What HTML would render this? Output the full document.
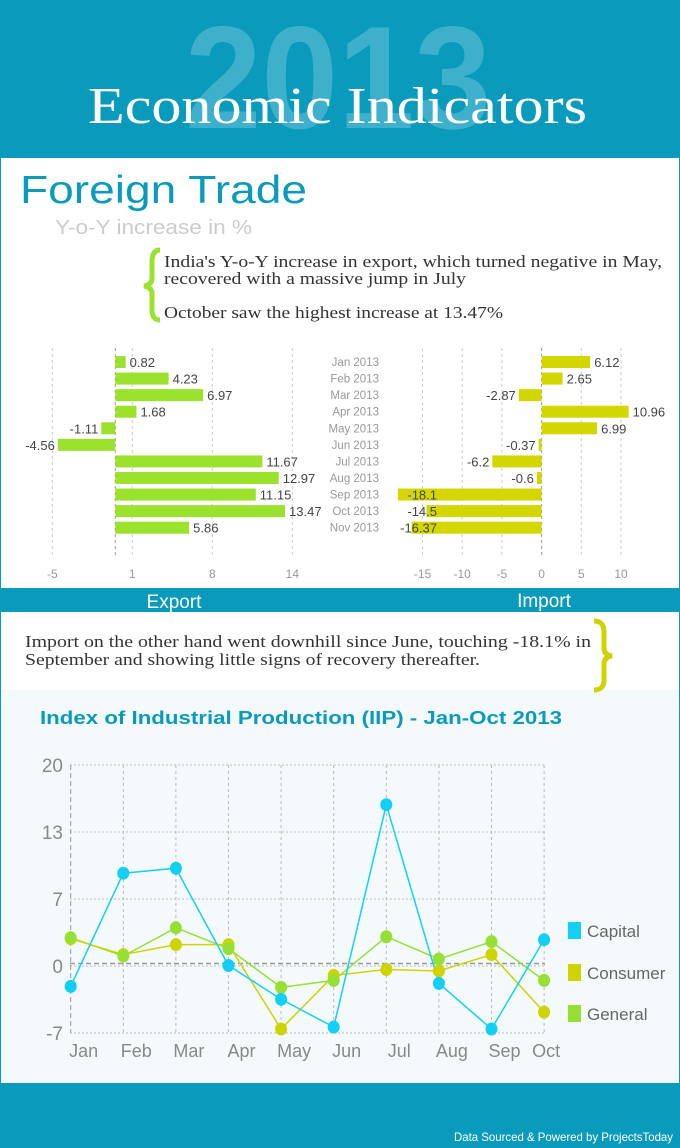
<!DOCTYPE html>
<html><head><meta charset="utf-8"><style>
html,body{margin:0;padding:0;background:#fff}
svg{display:block}
text{font-family:"Liberation Sans",sans-serif}
.serif{font-family:"Liberation Serif",serif}
</style></head><body>
<svg id="root" width="680" height="1148" viewBox="0 0 680 1148" xmlns="http://www.w3.org/2000/svg">
<rect x="0" y="0" width="680" height="1148" fill="#0a9bbc"/>
<rect x="1" y="158" width="678" height="430" fill="#ffffff"/>
<rect x="1" y="612" width="678" height="78" fill="#ffffff"/>
<rect x="1" y="690" width="678" height="393" fill="#f4fafc"/>
<text x="338" y="128" text-anchor="middle" font-size="146" font-weight="bold" fill="#3fb0cb" textLength="306" lengthAdjust="spacingAndGlyphs">2013</text>
<text class="serif" x="88" y="123" font-size="52" fill="#ffffff" textLength="499" lengthAdjust="spacingAndGlyphs">Economic Indicators</text>
<text x="20" y="203" font-size="39" fill="#0a9bbc" textLength="287" lengthAdjust="spacingAndGlyphs">Foreign Trade</text>
<text x="55" y="234" font-size="20" fill="#cccccc" textLength="197" lengthAdjust="spacingAndGlyphs">Y-o-Y increase in %</text>
<path d="M160,250 Q152,250 152,262 L152,278 Q152,285 144,286 Q152,287 152,294 L152,310 Q152,320 160,320" fill="none" stroke="#9be22d" stroke-width="5"/>
<text class="serif" x="164" y="267" font-size="17" fill="#333" textLength="498" lengthAdjust="spacingAndGlyphs">India's Y-o-Y increase in export, which turned negative in May,</text>
<text class="serif" x="164" y="284" font-size="17" fill="#333" textLength="302" lengthAdjust="spacingAndGlyphs">recovered with a massive jump in July</text>
<text class="serif" x="164" y="318" font-size="17" fill="#333" textLength="339" lengthAdjust="spacingAndGlyphs">October saw the highest increase at 13.47%</text>
<g id="trade"></g>
<text x="174" y="608" text-anchor="middle" font-size="19" fill="#fff">Export</text>
<text x="544" y="607" text-anchor="middle" font-size="19" fill="#fff">Import</text>
<text class="serif" x="25" y="647" font-size="17" fill="#333" textLength="566" lengthAdjust="spacingAndGlyphs">Import on the other hand went downhill since June, touching -18.1% in</text>
<text class="serif" x="25" y="665" font-size="17" fill="#333" textLength="455" lengthAdjust="spacingAndGlyphs">September and showing little signs of recovery thereafter.</text>
<path d="M594,621 Q604,621 604,632 L604,648 Q604,655 612,656 Q604,657 604,664 L604,680 Q604,690 594,690" fill="none" stroke="#cfd400" stroke-width="5"/>
<text x="40" y="724" font-size="18" font-weight="bold" fill="#0a9bbc" textLength="522" lengthAdjust="spacingAndGlyphs">Index of Industrial Production (IIP) - Jan-Oct 2013</text>
<g id="iip"></g>
<text x="673" y="1141" text-anchor="end" font-size="12" fill="#ffffff" textLength="219" lengthAdjust="spacingAndGlyphs">Data Sourced &amp; Powered by ProjectsToday</text>
</svg>
<script>
const tradeMonths = ["Jan 2013","Feb 2013","Mar 2013","Apr 2013","May 2013","Jun 2013","Jul 2013","Aug 2013","Sep 2013","Oct 2013","Nov 2013"];
const exportValues = [0.82,4.23,6.97,1.68,-1.11,-4.56,11.67,12.97,11.15,13.47,5.86];
const importValues = [6.12,2.65,-2.87,10.96,6.99,-0.37,-6.2,-0.6,-18.1,-14.5,-16.37];
const exportTicks = [-5,1.35,7.7,14.05];
const exportTickLabels = ["-5","1","8","14"];
const importTicks = [-15,-10,-5,0,5,10];
const importTickLabels = ["-15","-10","-5","0","5","10"];
const iipMonths = ["Jan","Feb","Mar","Apr","May","Jun","Jul","Aug","Sep","Oct"];
const capitalValues = [-2.3,9.1,9.6,-0.2,-3.6,-6.4,16,-2,-6.6,2.4];
const consumerValues = [2.5,0.9,1.9,1.9,-6.6,-1.2,-0.6,-0.75,0.9,-4.9];
const generalValues = [2.6,0.75,3.6,1.5,-2.4,-1.7,2.7,0.45,2.2,-1.7];
const iipTicks = [-7,-0.25,6.5,13.25,20];
const iipTickLabels = ["-7","0","7","13","20"];

const NS="http://www.w3.org/2000/svg";
function mk(parent,tag,attrs,txt){const e=document.createElementNS(NS,tag);for(const k in attrs)e.setAttribute(k,attrs[k]);if(txt!==undefined)e.textContent=txt;parent.appendChild(e);return e;}

const trade=document.getElementById('trade');
const rowY=i=>362+i*16.57;
const ex=v=>115.3+v*12.6;
const im=v=>541.6+v*7.94;
exportTicks.forEach((t,i)=>{
  const g=mk(trade,'line',{x1:ex(t),x2:ex(t),y1:348,y2:558,stroke:'#ccc','stroke-dasharray':'3,3'});
  
  
  const l=mk(trade,'text',{x:ex(t),y:578,'text-anchor':'middle','font-size':12,fill:'#999'},exportTickLabels[i]);
  
  
});
importTicks.forEach((t,i)=>{
  const g=mk(trade,'line',{x1:im(t),x2:im(t),y1:348,y2:558,stroke:t===0?'#999':'#ccc','stroke-dasharray':'3,3'});
  
  
  const l=mk(trade,'text',{x:im(t),y:578,'text-anchor':'middle','font-size':12,fill:'#999'},importTickLabels[i]);
  
  
});
const z=mk(trade,'line',{x1:ex(0),x2:ex(0),y1:348,y2:558,stroke:'#999','stroke-dasharray':'3,3'});


tradeMonths.forEach((m,i)=>{
  const y=rowY(i);
  const ml=mk(trade,'text',{x:379,y:y+4,'text-anchor':'end','font-size':11.5,fill:'#999','font-family':'"Liberation Sans Narrow","Liberation Sans",sans-serif'},m);
  
  
  const v=exportValues[i];
  const b=mk(trade,'rect',{x:Math.min(ex(0),ex(v)),y:y-6,width:Math.abs(ex(v)-ex(0)),height:12,fill:'#9be22d'});
  
  
  const t=mk(trade,'text',{x:v>=0?ex(v)+4:ex(v)-3,y:y+5,'text-anchor':v>=0?'start':'end','font-size':13,fill:'#444'},String(v));
  
  
  const w=importValues[i];
  const b2=mk(trade,'rect',{x:Math.min(im(0),im(w)),y:y-6,width:Math.abs(im(w)-im(0)),height:12,fill:'#d4d600'});
  
  
  const t2=mk(trade,'text',{x:w>=0?im(w)+4:Math.max(im(w)-3,437),y:y+5,'text-anchor':w>=0?'start':'end','font-size':13,fill:'#444'},String(w));
  
  
});

const iip=document.getElementById('iip');
const X=i=>70.7+i*52.6;
const Y=v=>1033-(v+7)*268/27;
iipTicks.forEach((t,i)=>{
  const g=mk(iip,'line',{x1:70,x2:545,y1:Y(t),y2:Y(t),stroke:'#bbb','stroke-dasharray':'2,2'});
  
  
  const l=mk(iip,'text',{x:63,y:Y(t)+7,'text-anchor':'end','font-size':19,fill:'#888'},iipTickLabels[i]);
  
  
});
iipMonths.forEach((m,i)=>{
  const g=mk(iip,'line',{x1:X(i),x2:X(i),y1:Y(20),y2:Y(-7),stroke:i===0?'#999':'#bbb','stroke-dasharray':i===0?'5,3':'3,3'});
  
  
  const l=mk(iip,'text',{x:X(i)+(i===9?2:13),y:1057,'text-anchor':'middle','font-size':18,fill:'#888'},m);
  
  
});
const zl=mk(iip,'line',{x1:70,x2:545,y1:Y(0),y2:Y(0),stroke:'#999','stroke-dasharray':'5,3','stroke-width':1.5});


const series=[["capital",capitalValues,"#12cff5"],["consumer",consumerValues,"#cdd400"],["general",generalValues,"#95e032"]];
series.slice().reverse().forEach(([n,vals,c])=>{
  const p=mk(iip,'polyline',{points:vals.map((v,i)=>X(i)+','+Y(v)).join(' '),fill:'none',stroke:c,'stroke-width':1.5});
  
  
});
[series[1],series[2],series[0]].forEach(([n,vals,c])=>{
  vals.forEach((v,i)=>{
    const d=mk(iip,'ellipse',{cx:X(i),cy:Y(v),rx:6,ry:6.5,fill:c});
    
    
  });
});
const legendY=[930,972,1013];
series.forEach(([n,vals,c],k)=>{
  const r=mk(iip,'rect',{x:568,y:legendY[k]-8,width:13,height:17,fill:c});
  
  
  const t=mk(iip,'text',{x:587,y:legendY[k]+7,'font-size':17,fill:'#666'},n.charAt(0).toUpperCase()+n.slice(1));
  
  
});
</script>
</body></html>
